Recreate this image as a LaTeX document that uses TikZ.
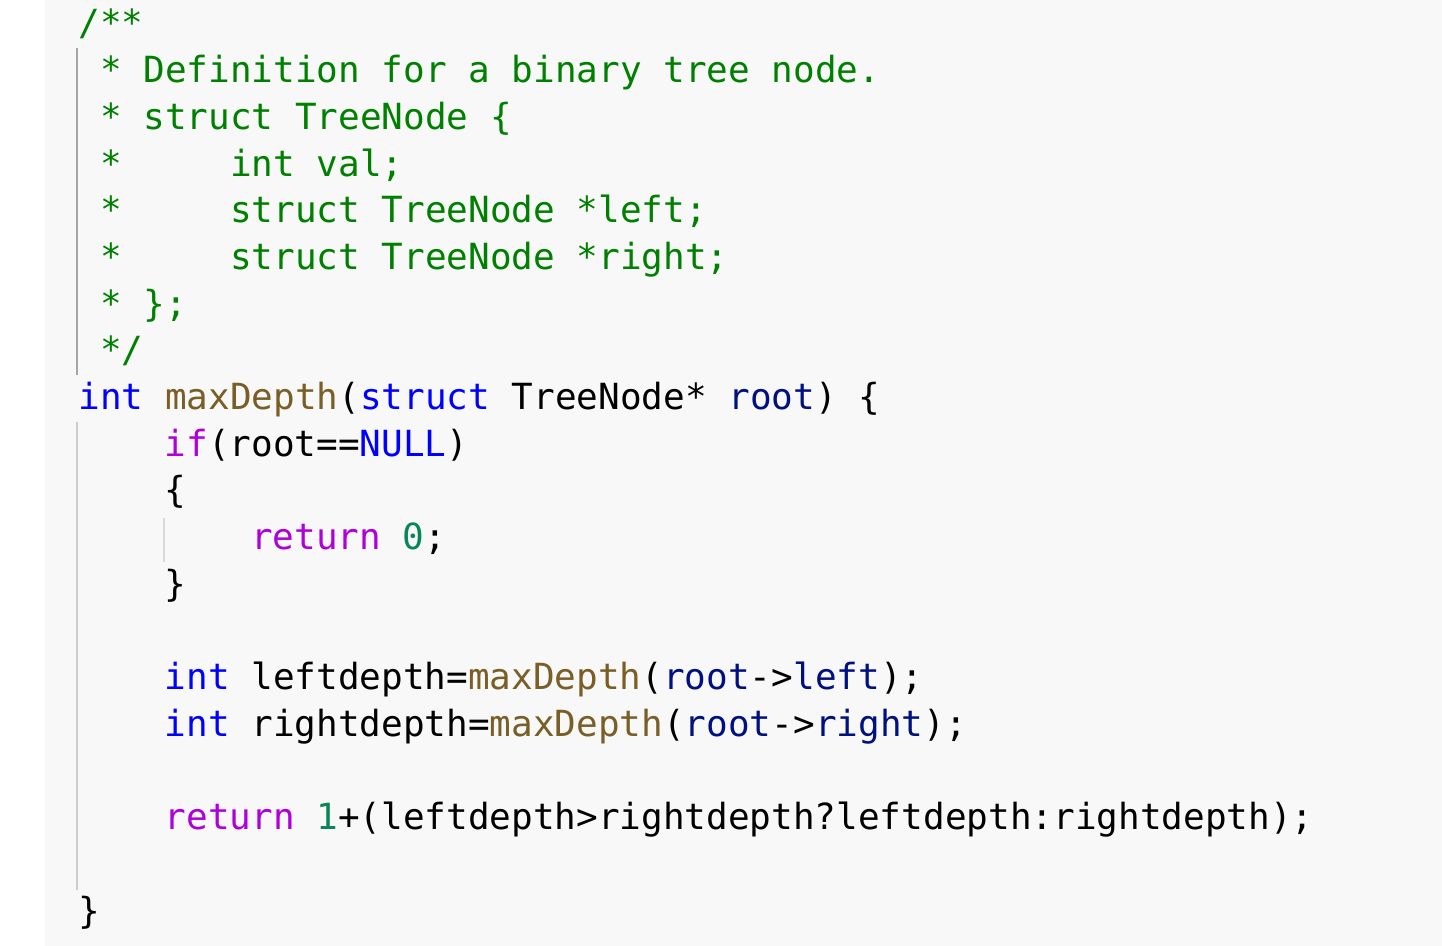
\documentclass[tikz,border=0pt]{standalone}
\usepackage{fontspec}
\setmonofont{DejaVu Sans Mono}
\definecolor{cm}{HTML}{008000}
\definecolor{kw}{HTML}{0000FF}
\definecolor{fn}{HTML}{795E26}
\definecolor{ct}{HTML}{AF00DB}
\definecolor{nm}{HTML}{098658}
\definecolor{pr}{HTML}{001080}
\definecolor{bg}{HTML}{F8F8F8}
\begin{document}
\begin{tikzpicture}[x=0.5pt,y=-0.5pt,
  ln/.style={anchor=base west,inner sep=0pt,font=\fontsize{18}{18}\ttfamily},
  guide/.style={line width=1.2pt,gray!70}]
\useasboundingbox (0,0) rectangle (1442,946);
\fill[bg] (45,0) rectangle (1442,946);
\def\L#1{(78+21.6*#1)}
\newcommand\cl[3]{\node[ln] (#1) at ({78+21.6*#2},{25+46.7*#3+11}) {#1};}
\node[ln,text=cm] (l0) at (78,36) {/**};
\node[ln,text=cm] (l1) at (99.6,83) {* Definition for a binary tree node.};
\node[ln,text=cm] (l2) at (99.6,129.4) {* struct TreeNode \{};
\node[ln,text=cm] (l3) at (99.6,176.1) {*~~~~~int val;};
\node[ln,text=cm] (l4) at (99.6,222.8) {*~~~~~struct TreeNode *left;};
\node[ln,text=cm] (l5) at (99.6,269.5) {*~~~~~struct TreeNode *right;};
\node[ln,text=cm] (l6) at (99.6,316.2) {* \};};
\node[ln,text=cm] (l7) at (99.6,362.9) {*/};
\node[ln] (l8) at (78,409.6) {\textcolor{kw}{int} \textcolor{fn}{maxDepth}(\textcolor{kw}{struct} TreeNode* \textcolor{pr}{root}) \{};
\node[ln] (l9) at (164.4,456.3) {\textcolor{ct}{if}(root==\textcolor{kw}{NULL})};
\node[ln] (l10) at (164.4,503) {\{};
\node[ln] (l11) at (250.8,549.7) {\textcolor{ct}{return} \textcolor{nm}{0};};
\node[ln] (l12) at (164.4,596.4) {\}};
\node[ln] (l14) at (164.4,689.8) {\textcolor{kw}{int} leftdepth=\textcolor{fn}{maxDepth}(\textcolor{pr}{root}->\textcolor{pr}{left});};
\node[ln] (l15) at (164.4,736.5) {\textcolor{kw}{int} rightdepth=\textcolor{fn}{maxDepth}(\textcolor{pr}{root}->\textcolor{pr}{right});};
\node[ln] (l17) at (164.4,829.9) {\textcolor{ct}{return} \textcolor{nm}{1}+(leftdepth>rightdepth?leftdepth:rightdepth);};
\node[ln] (l19) at (78,923.3) {\}};
\draw[guide] (77,48) -- (77,375);
\draw[guide,gray!40] (77,422) -- (77,890);
\draw[guide,gray!30] (164,518) -- (164,562);
\end{tikzpicture}
\end{document}
